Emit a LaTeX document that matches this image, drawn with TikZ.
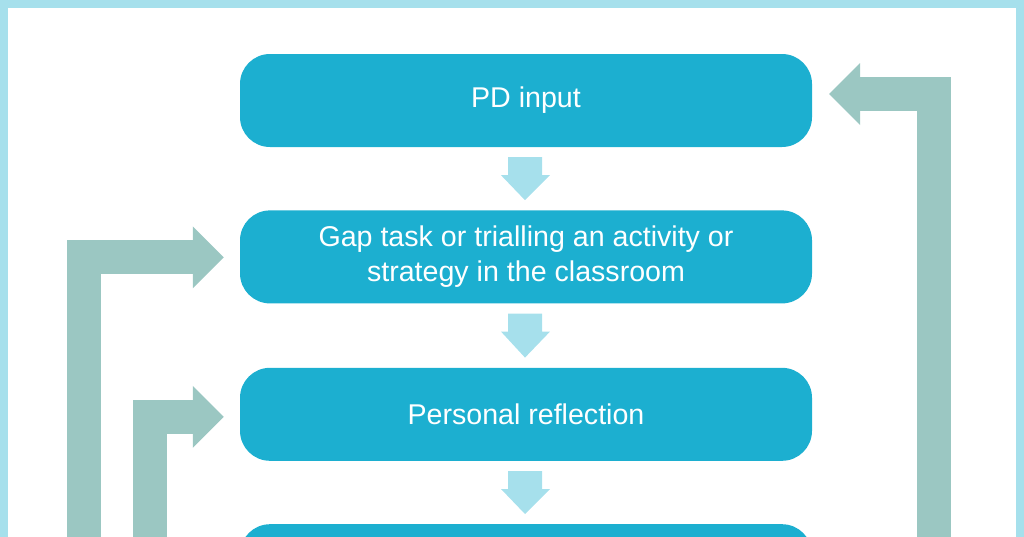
\documentclass[tikz,border=0pt]{standalone}
\usepackage{fontspec}
\setmainfont{Liberation Sans}
\usepackage{tikz}
\usetikzlibrary{positioning,calc}

\definecolor{boxblue}{HTML}{1CAFD0}
\definecolor{paleblue}{HTML}{A6E0EC}
\definecolor{backteal}{HTML}{9BC7C2}

\begin{document}
\begin{tikzpicture}[x=1pt,y=-1pt]
\tikzstyle{stepbox} = [fill = boxblue, rounded corners = 30pt, minimum width = 572pt, minimum height = 93pt, inner sep = 0pt, text = white, align = center, font = \fontsize{28.6}{35}\selectfont]
\tikzstyle{downarrow} = [fill = paleblue]
\tikzstyle{backline} = [draw = backteal, line width = 34pt, miter limit = 10]
\tikzstyle{backhead} = [fill = backteal]
	\useasboundingbox (0,0) rectangle (1024,536);
	\clip (0,0) rectangle (1024,536);
	% frame
	\draw[paleblue, line width = 8pt] (4,4) rectangle (1020,600);

	\node [stepbox] (pd) at (526,100.5) {PD input};
	\node [stepbox, below = 63pt of pd] (gap) {Gap task or trialling an activity or\\strategy in the classroom};
	\node [stepbox, below = 64pt of gap] (refl) {Personal reflection};
	\node [stepbox, below = 63pt of refl] (next) {};

	% small arrows between the boxes
	\fill[downarrow] ($(pd.south)+(-18,10)$) -- ++(34,0) -- ++(0,18) -- ++(8,0)
		-- ($(gap.north)+(-1,-10)$) -- ($(pd.south)+(-25,28)$) -- ++(7,0) -- cycle;
	\fill[downarrow] ($(gap.south)+(-18,10)$) -- ++(34,0) -- ++(0,18) -- ++(8,0)
		-- ($(refl.north)+(-1,-10)$) -- ($(gap.south)+(-25,28)$) -- ++(7,0) -- cycle;
	\fill[downarrow] ($(refl.south)+(-18,10)$) -- ++(34,0) -- ++(0,18) -- ++(8,0)
		-- ($(next.north)+(-1,-10)$) -- ($(refl.south)+(-25,28)$) -- ++(7,0) -- cycle;

	% feedback arrows
	\draw[backline] (934,560) |- ($(pd.east)+(48,-6.5)$);
	\fill[backhead] ($(pd.east)+(17,-6.5)$) -- ++(31,31) -- ++(0,-62) -- cycle;

	\draw[backline] (84,560) |- ($(gap.west)+(-47,0.5)$);
	\fill[backhead] ($(gap.west)+(-16,0.5)$) -- ++(-31,31) -- ++(0,-62) -- cycle;

	\draw[backline] (149.5,560) |- ($(refl.west)+(-47,2.5)$);
	\fill[backhead] ($(refl.west)+(-16,2.5)$) -- ++(-31,31) -- ++(0,-62) -- cycle;
%	\draw[backline] (next.west) -- ++(-20,0);
\end{tikzpicture}
\end{document}
